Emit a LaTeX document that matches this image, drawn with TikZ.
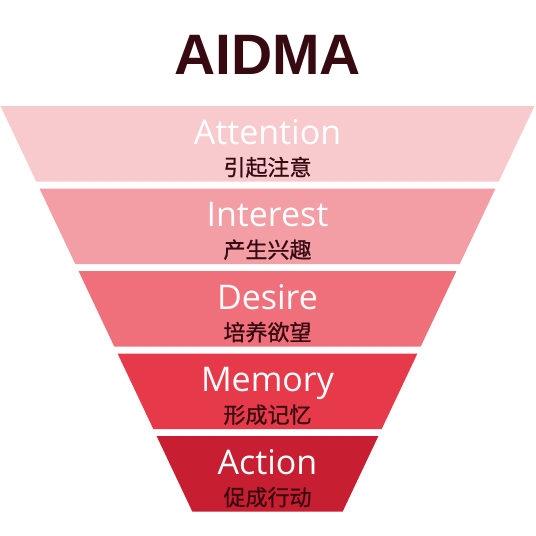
\documentclass[tikz,border=0pt]{standalone}
\usepackage{fontspec}
\usepackage{tikz}
\usetikzlibrary{positioning}
\setmainfont{Open Sans}
\newfontfamily\titlefont{Liberation Sans}
\newfontfamily\cnfont[FakeBold=0.8]{Noto Sans CJK SC}
\definecolor{darkwine}{HTML}{360A10}
\definecolor{bandA}{HTML}{F8C9CD}
\definecolor{bandB}{HTML}{F39DA5}
\definecolor{bandC}{HTML}{EF6F7B}
\definecolor{bandD}{HTML}{E63A4A}
\definecolor{bandE}{HTML}{C81E32}
\tikzset{
  title/.style={anchor=base, inner sep=0pt, text=darkwine, font=\titlefont\bfseries\fontsize{57}{57}\selectfont},
  entext/.style={anchor=base, inner sep=0pt, text=white, font=\fontsize{34}{34}\selectfont},
  cntext/.style={anchor=base, inner sep=0pt, text=darkwine, font=\cnfont\fontsize{22}{22}\selectfont},
}

\begin{document}
\begin{tikzpicture}[x=1pt, y=-1pt]
  \useasboundingbox (0,0) rectangle (536,536);

  % Title
  \node[title] (head) at (267.5,74) {AIDMA};

  % Funnel bands
  \foreach \i/\en/\cn/\col in {0/Attention/引起注意/bandA, 1/Interest/产生兴趣/bandB,
      2/Desire/培养欲望/bandC, 3/Memory/形成记忆/bandD, 4/Action/促成行动/bandE} {
    \pgfmathsetmacro\T{106+82.5*\i}
    \pgfmathsetmacro\B{\T+75.5}
    \pgfmathsetmacro\wt{267-0.473*(\T-106)}
    \pgfmathsetmacro\wb{267-0.473*(\B-106)}
    \fill[\col] (267.5-\wt,\T) -- (267.5+\wt,\T) -- (267.5+\wb,\B) -- (267.5-\wb,\B) -- cycle;
    \node[entext] (en\i) at (267.5,\T+38) {\en};
    \node[cntext] (cn\i) at (267.5,\T+69.5) {\cn};
  }
\end{tikzpicture}
\end{document}
